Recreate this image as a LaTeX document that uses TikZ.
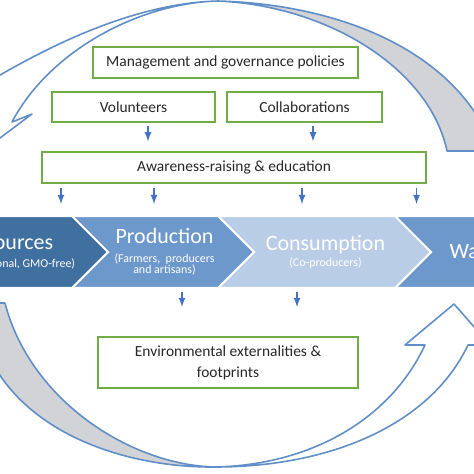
\documentclass[tikz,border=0pt]{standalone}
\usepackage{fontspec}
\setmainfont{Carlito}
\usetikzlibrary{shapes.symbols}

\definecolor{boxgreen}{RGB}{112,173,71}
\definecolor{ringblue}{RGB}{96,142,200}
\definecolor{ringgray}{RGB}{210,211,214}
\definecolor{arrowblue}{RGB}{68,114,196}
\definecolor{chevdark}{RGB}{64,112,160}
\definecolor{chevmid}{RGB}{108,152,204}
\definecolor{chevlight}{RGB}{186,205,230}
\definecolor{boxtext}{RGB}{40,40,40}

\newcommand{\chevtitle}{\fontsize{12.5}{14}\selectfont}
\newcommand{\chevsub}{\fontsize{6.8}{7.6}\selectfont}

\tikzset{
  greenbox/.style={draw=boxgreen, line width=1.1pt, fill=white, text=boxtext, align=center, inner sep=0pt, font=\fontsize{8.8}{11}\selectfont},
  chevron/.style={signal, signal from=west, signal to=east, signal pointer angle=90, draw=white, line width=1.2pt, minimum height=1.44cm, inner sep=0pt, text=white, align=center},
  smallarrow/.style={draw=arrowblue, line width=0.8pt, -latex},
  ring/.style={draw=ringblue, line width=0.9pt, line join=round}
}

\begin{document}
\begin{tikzpicture}[x=0.02cm, y=-0.02cm]
	\useasboundingbox (0,0) rectangle (474,474);
	\clip (0,0) rectangle (474,474);

	% upper ring arrow
	\draw[ring, fill=white] (218,1) .. controls (140,3) and (60,40) .. (-5,78) -- (-40,60) -- (-20,153) -- (32,114) -- (12,122) .. controls (50,50) and (140,3) .. (218,1);
	\draw[ring, fill=ringgray] (218,1) .. controls (330,4) and (455,45) .. (495,151) -- (447,151) .. controls (430,70) and (330,6) .. (218,1);

	% lower ring arrow
	\draw[ring, fill=ringgray] (5,303) -- (-25,303) .. controls (-15,420) and (110,468) .. (215,467) .. controls (130,465) and (30,400) .. (5,303);
	\draw[ring, fill=white] (215,467) .. controls (330,467) and (430,425) .. (468,345) -- (490,345) -- (454,304) -- (405,345) -- (425,345) .. controls (390,420) and (310,465) .. (215,467);

	% chain
	\node[chevron, fill=chevdark, minimum width=4cm] (res) at (8,252) {\chevtitle Resources\\[-2pt]\chevsub (Local, seasonal, GMO-free)};
	\node[chevron, fill=chevmid, minimum width=3.7cm] (prod) at (164.5,252) {\chevtitle Production\\[-1.5pt]\chevsub (Farmers,\ \ producers\\[-5.2pt]\chevsub and artisans)};
	\node[chevron, fill=chevlight, minimum width=4.3cm] (cons) at (325.5,252) {\chevtitle Consumption\\[-3pt]\chevsub (Co-producers)};
	\node[chevron, fill=chevmid, minimum width=3.3cm] (waste) at (477.5,252) {\chevtitle Waste};

	% boxes
	\node[greenbox, minimum width=5.3cm, minimum height=0.62cm] (policy) at (225.5,62.5) {Management and governance policies};
	\node[greenbox, minimum width=3.26cm, minimum height=0.6cm] (vol) at (133.5,107) {Volunteers};
	\node[greenbox, minimum width=3.1cm, minimum height=0.6cm] (collab) at (304.5,107) {Collaborations};
	\node[greenbox, minimum width=7.68cm, minimum height=0.62cm] (aware) at (234,167.5) {Awareness-raising \& education};
	\node[greenbox, minimum width=5.2cm, minimum height=1.02cm] (env) at (228,362.5) {Environmental externalities \&\\[1pt]footprints};

	% arrows
	\draw[smallarrow, shorten <=2pt, shorten >=5.5pt] ([xshift=0.29cm]vol.south) -- ([xshift=0.29cm]vol.south |- aware.north);
	\draw[smallarrow, shorten <=2pt, shorten >=5.5pt] ([xshift=0.17cm]collab.south) -- ([xshift=0.17cm]collab.south |- aware.north);
	\draw[smallarrow, shorten <=2.3pt, shorten >=6.2pt] ([xshift=1.06cm]res.north |- aware.south) -- ([xshift=1.06cm]res.north);
	\draw[smallarrow, shorten <=2.3pt, shorten >=6.2pt] ([xshift=-0.21cm]prod.north |- aware.south) -- ([xshift=-0.21cm]prod.north);
	\draw[smallarrow, shorten <=2.3pt, shorten >=6.2pt] ([xshift=-0.47cm]cons.north |- aware.south) -- ([xshift=-0.47cm]cons.north);
	\draw[smallarrow, shorten <=2.3pt, shorten >=6.2pt] ([xshift=-1.22cm]waste.north |- aware.south) -- ([xshift=-1.22cm]waste.north);
	\draw[smallarrow, shorten <=1.5pt, shorten >=16.5pt] ([xshift=0.35cm]prod.south) -- ([xshift=0.35cm]prod.south |- env.north);
	\draw[smallarrow, shorten <=1.5pt, shorten >=16.5pt] ([xshift=-0.57cm]cons.south) -- ([xshift=-0.57cm]cons.south |- env.north);
\end{tikzpicture}
\end{document}
